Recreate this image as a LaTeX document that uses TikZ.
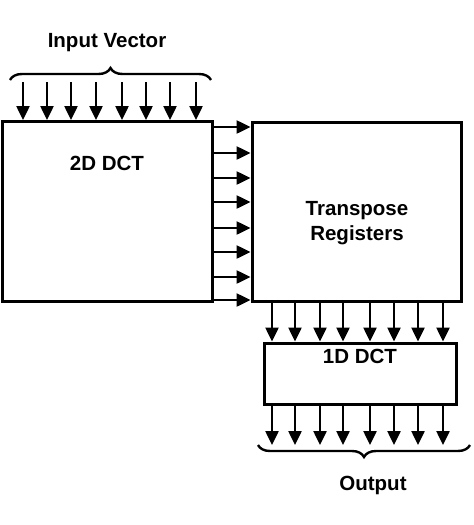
\documentclass[tikz,border=0pt]{standalone}
\usepackage{fontspec}
\setmainfont{Liberation Sans}
\usetikzlibrary{arrows.meta,decorations.pathreplacing,calc}
\begin{document}
\begin{tikzpicture}[x=1pt,y=-1pt,
  box/.style={draw,line width=3pt,inner sep=0pt},
  lbl/.style={font=\fontsize{20.5}{25}\selectfont\bfseries,align=center,inner sep=0pt},
  arr/.style={line width=2.5pt,-{Triangle[width=13pt,length=14pt]}},
  brc/.style={line width=2.4pt,decorate,decoration={brace,amplitude=12pt}}]
\useasboundingbox (0,0) rectangle (474,525);
\node[box,minimum width=210pt,minimum height=180pt] (dcta) at (107,211.5) {};
\node[box,minimum width=209pt,minimum height=179pt] (tr) at (356.5,211.5) {};
\node[box,minimum width=192pt,minimum height=61pt] (dctb) at (360,373.5) {};
\node[lbl] (t2d) at (107,163) {2D DCT};
\node[lbl] (ttr) at (357,223) {Transpose\\Registers};
\node[lbl] (t1d) at (360,356) {1D DCT};
\node[lbl] (tin) at (107,43) {Input Vector};
\node[lbl] (tout) at (373,485) {Output};
% input arrows
\foreach \i/\x in {1/23,2/47,3/71,4/96,5/122,6/146,7/170,8/196}{
  \coordinate (in\i) at (\x,82);
  \draw[arr] (in\i) -- (in\i |- dcta.north);
}
% horizontal arrows
\foreach \i/\y in {1/127,2/153,3/178,4/202,5/228,6/252,7/277,8/300}{
  \coordinate (h\i) at (0,\y);
  \draw[arr] (dcta.east |- h\i) -- (tr.west |- h\i);
}
% transpose to 1D
\foreach \i/\x in {1/272,2/295,3/320,4/343,5/370,6/394,7/418,8/443}{
  \coordinate (v\i) at (\x,0);
  \draw[arr] (v\i |- tr.south) -- (v\i |- dctb.north);
  \coordinate (o\i) at (\x,445);
  \draw[arr] (v\i |- dctb.south) -- (o\i);
}
\coordinate (b1) at (10,80);
\coordinate (b2) at (211,80);
\draw[brc] (b1) -- (b2);
\coordinate (c1) at (470,445);
\coordinate (c2) at (258,445);
\draw[brc] (c1) -- (c2);
\end{tikzpicture}
\end{document}
